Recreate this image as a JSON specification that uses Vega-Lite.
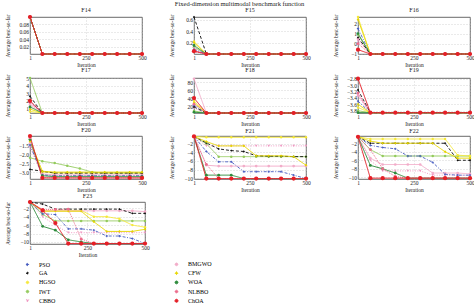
{
"$schema":"https://vega.github.io/schema/vega-lite/v6.json",
"padding":{"left":4,"top":0,"right":0,"bottom":0},
"title":{"text":"Fixed-dimension multimodal benchmark function","fontSize":6.5,"offset":0,"anchor":"middle"},
"config":{
 "font":"Liberation Serif",
 "view":{"stroke":"#444","strokeWidth":0.8},
 "axis":{"labelFontSize":5.5,"titleFontSize":5.5,"titleFontWeight":"normal","labelColor":"#222","titleColor":"#222","domain":false,"ticks":false,"gridColor":"#bbb","gridDash":[1,2],"gridWidth":0.6,"labelPadding":1.5,"labelFlush":false,"labelOverlap":false},
 "axisX":{"titlePadding":1},
 "axisY":{"minExtent":15,"maxExtent":15,"titlePadding":5},
 "title":{"fontSize":6,"fontWeight":"normal","offset":0.5,"color":"#222"},
 "legend":{"columns":2,"rowPadding":1.2,"labelFontSize":6,"symbolSize":49,"labelOffset":4}
},
"resolve":{"scale":{"color":"shared","strokeDash":"shared","strokeWidth":"shared","shape":"shared","size":"shared"},"legend":{"color":"shared","strokeDash":"shared"}},
"datasets":{
"F14":[
{"it":1,"PSO":0.1,"BMGWO":0.1,"GA":0.1,"CFW":0.1,"HGSO":0.1,"WOA":0.1,"IWT":0.1,"NLBBO":0.1,"CBBO":0.1,"ChOA":0.1},
{"it":56,"PSO":0,"BMGWO":0,"GA":0,"CFW":0,"HGSO":0,"WOA":0,"IWT":0,"NLBBO":0,"CBBO":0,"ChOA":0},
{"it":111,"PSO":0,"BMGWO":0,"GA":0,"CFW":0,"HGSO":0,"WOA":0,"IWT":0,"NLBBO":0,"CBBO":0,"ChOA":0},
{"it":167,"PSO":0,"BMGWO":0,"GA":0,"CFW":0,"HGSO":0,"WOA":0,"IWT":0,"NLBBO":0,"CBBO":0,"ChOA":0},
{"it":223,"PSO":0,"BMGWO":0,"GA":0,"CFW":0,"HGSO":0,"WOA":0,"IWT":0,"NLBBO":0,"CBBO":0,"ChOA":0},
{"it":278,"PSO":0,"BMGWO":0,"GA":0,"CFW":0,"HGSO":0,"WOA":0,"IWT":0,"NLBBO":0,"CBBO":0,"ChOA":0},
{"it":334,"PSO":0,"BMGWO":0,"GA":0,"CFW":0,"HGSO":0,"WOA":0,"IWT":0,"NLBBO":0,"CBBO":0,"ChOA":0},
{"it":389,"PSO":0,"BMGWO":0,"GA":0,"CFW":0,"HGSO":0,"WOA":0,"IWT":0,"NLBBO":0,"CBBO":0,"ChOA":0},
{"it":445,"PSO":0,"BMGWO":0,"GA":0,"CFW":0,"HGSO":0,"WOA":0,"IWT":0,"NLBBO":0,"CBBO":0,"ChOA":0},
{"it":500,"PSO":0,"BMGWO":0,"GA":0,"CFW":0,"HGSO":0,"WOA":0,"IWT":0,"NLBBO":0,"CBBO":0,"ChOA":0}],
"F15":[
{"it":1,"PSO":0.08,"BMGWO":0.06,"GA":0.65,"CFW":0.2,"HGSO":0.22,"WOA":0.15,"IWT":0.12,"NLBBO":0.04,"CBBO":0.1,"ChOA":0.05},
{"it":56,"PSO":0,"BMGWO":0,"GA":0,"CFW":0,"HGSO":0,"WOA":0,"IWT":0,"NLBBO":0,"CBBO":0,"ChOA":0},
{"it":111,"PSO":0,"BMGWO":0,"GA":0,"CFW":0,"HGSO":0,"WOA":0,"IWT":0,"NLBBO":0,"CBBO":0,"ChOA":0},
{"it":167,"PSO":0,"BMGWO":0,"GA":0,"CFW":0,"HGSO":0,"WOA":0,"IWT":0,"NLBBO":0,"CBBO":0,"ChOA":0},
{"it":223,"PSO":0,"BMGWO":0,"GA":0,"CFW":0,"HGSO":0,"WOA":0,"IWT":0,"NLBBO":0,"CBBO":0,"ChOA":0},
{"it":278,"PSO":0,"BMGWO":0,"GA":0,"CFW":0,"HGSO":0,"WOA":0,"IWT":0,"NLBBO":0,"CBBO":0,"ChOA":0},
{"it":334,"PSO":0,"BMGWO":0,"GA":0,"CFW":0,"HGSO":0,"WOA":0,"IWT":0,"NLBBO":0,"CBBO":0,"ChOA":0},
{"it":389,"PSO":0,"BMGWO":0,"GA":0,"CFW":0,"HGSO":0,"WOA":0,"IWT":0,"NLBBO":0,"CBBO":0,"ChOA":0},
{"it":445,"PSO":0,"BMGWO":0,"GA":0,"CFW":0,"HGSO":0,"WOA":0,"IWT":0,"NLBBO":0,"CBBO":0,"ChOA":0},
{"it":500,"PSO":0,"BMGWO":0,"GA":0,"CFW":0,"HGSO":0,"WOA":0,"IWT":0,"NLBBO":0,"CBBO":0,"ChOA":0}],
"F16":[
{"it":1,"PSO":1.5,"BMGWO":0.5,"GA":0.6,"CFW":2.4,"HGSO":2.65,"WOA":1.0,"IWT":0.9,"NLBBO":0.0,"CBBO":0.3,"ChOA":-0.6},
{"it":56,"PSO":-1.03,"BMGWO":-1.03,"GA":-1.03,"CFW":-1.03,"HGSO":-1.03,"WOA":-1.03,"IWT":-1.03,"NLBBO":-1.03,"CBBO":-1.03,"ChOA":-1.03},
{"it":111,"PSO":-1.03,"BMGWO":-1.03,"GA":-1.03,"CFW":-1.03,"HGSO":-1.03,"WOA":-1.03,"IWT":-1.03,"NLBBO":-1.03,"CBBO":-1.03,"ChOA":-1.03},
{"it":167,"PSO":-1.03,"BMGWO":-1.03,"GA":-1.03,"CFW":-1.03,"HGSO":-1.03,"WOA":-1.03,"IWT":-1.03,"NLBBO":-1.03,"CBBO":-1.03,"ChOA":-1.03},
{"it":223,"PSO":-1.03,"BMGWO":-1.03,"GA":-1.03,"CFW":-1.03,"HGSO":-1.03,"WOA":-1.03,"IWT":-1.03,"NLBBO":-1.03,"CBBO":-1.03,"ChOA":-1.03},
{"it":278,"PSO":-1.03,"BMGWO":-1.03,"GA":-1.03,"CFW":-1.03,"HGSO":-1.03,"WOA":-1.03,"IWT":-1.03,"NLBBO":-1.03,"CBBO":-1.03,"ChOA":-1.03},
{"it":334,"PSO":-1.03,"BMGWO":-1.03,"GA":-1.03,"CFW":-1.03,"HGSO":-1.03,"WOA":-1.03,"IWT":-1.03,"NLBBO":-1.03,"CBBO":-1.03,"ChOA":-1.03},
{"it":389,"PSO":-1.03,"BMGWO":-1.03,"GA":-1.03,"CFW":-1.03,"HGSO":-1.03,"WOA":-1.03,"IWT":-1.03,"NLBBO":-1.03,"CBBO":-1.03,"ChOA":-1.03},
{"it":445,"PSO":-1.03,"BMGWO":-1.03,"GA":-1.03,"CFW":-1.03,"HGSO":-1.03,"WOA":-1.03,"IWT":-1.03,"NLBBO":-1.03,"CBBO":-1.03,"ChOA":-1.03},
{"it":500,"PSO":-1.03,"BMGWO":-1.03,"GA":-1.03,"CFW":-1.03,"HGSO":-1.03,"WOA":-1.03,"IWT":-1.03,"NLBBO":-1.03,"CBBO":-1.03,"ChOA":-1.03}],
"F17":[
{"it":1,"PSO":2.0,"BMGWO":1.5,"GA":2.6,"CFW":0.9,"HGSO":0.6,"WOA":1.2,"IWT":5,"NLBBO":1.8,"CBBO":1.7,"ChOA":2.0},
{"it":56,"PSO":0.398,"BMGWO":0.398,"GA":0.398,"CFW":0.398,"HGSO":0.398,"WOA":0.398,"IWT":0.398,"NLBBO":0.398,"CBBO":0.398,"ChOA":0.398},
{"it":111,"PSO":0.398,"BMGWO":0.398,"GA":0.398,"CFW":0.398,"HGSO":0.398,"WOA":0.398,"IWT":0.398,"NLBBO":0.398,"CBBO":0.398,"ChOA":0.398},
{"it":167,"PSO":0.398,"BMGWO":0.398,"GA":0.398,"CFW":0.398,"HGSO":0.398,"WOA":0.398,"IWT":0.398,"NLBBO":0.398,"CBBO":0.398,"ChOA":0.398},
{"it":223,"PSO":0.398,"BMGWO":0.398,"GA":0.398,"CFW":0.398,"HGSO":0.398,"WOA":0.398,"IWT":0.398,"NLBBO":0.398,"CBBO":0.398,"ChOA":0.398},
{"it":278,"PSO":0.398,"BMGWO":0.398,"GA":0.398,"CFW":0.398,"HGSO":0.398,"WOA":0.398,"IWT":0.398,"NLBBO":0.398,"CBBO":0.398,"ChOA":0.398},
{"it":334,"PSO":0.398,"BMGWO":0.398,"GA":0.398,"CFW":0.398,"HGSO":0.398,"WOA":0.398,"IWT":0.398,"NLBBO":0.398,"CBBO":0.398,"ChOA":0.398},
{"it":389,"PSO":0.398,"BMGWO":0.398,"GA":0.398,"CFW":0.398,"HGSO":0.398,"WOA":0.398,"IWT":0.398,"NLBBO":0.398,"CBBO":0.398,"ChOA":0.398},
{"it":445,"PSO":0.398,"BMGWO":0.398,"GA":0.398,"CFW":0.398,"HGSO":0.398,"WOA":0.398,"IWT":0.398,"NLBBO":0.398,"CBBO":0.398,"ChOA":0.398},
{"it":500,"PSO":0.398,"BMGWO":0.398,"GA":0.398,"CFW":0.398,"HGSO":0.398,"WOA":0.398,"IWT":0.398,"NLBBO":0.398,"CBBO":0.398,"ChOA":0.398}],
"F18":[
{"it":1,"PSO":22,"BMGWO":88,"GA":18,"CFW":28,"HGSO":33,"WOA":5,"IWT":8,"NLBBO":25,"CBBO":15,"ChOA":40},
{"it":56,"PSO":3,"BMGWO":3,"GA":3,"CFW":3,"HGSO":3,"WOA":3,"IWT":3,"NLBBO":3,"CBBO":3,"ChOA":3},
{"it":111,"PSO":3,"BMGWO":3,"GA":3,"CFW":3,"HGSO":3,"WOA":3,"IWT":3,"NLBBO":3,"CBBO":3,"ChOA":3},
{"it":167,"PSO":3,"BMGWO":3,"GA":3,"CFW":3,"HGSO":3,"WOA":3,"IWT":3,"NLBBO":3,"CBBO":3,"ChOA":3},
{"it":223,"PSO":3,"BMGWO":3,"GA":3,"CFW":3,"HGSO":3,"WOA":3,"IWT":3,"NLBBO":3,"CBBO":3,"ChOA":3},
{"it":278,"PSO":3,"BMGWO":3,"GA":3,"CFW":3,"HGSO":3,"WOA":3,"IWT":3,"NLBBO":3,"CBBO":3,"ChOA":3},
{"it":334,"PSO":3,"BMGWO":3,"GA":3,"CFW":3,"HGSO":3,"WOA":3,"IWT":3,"NLBBO":3,"CBBO":3,"ChOA":3},
{"it":389,"PSO":3,"BMGWO":3,"GA":3,"CFW":3,"HGSO":3,"WOA":3,"IWT":3,"NLBBO":3,"CBBO":3,"ChOA":3},
{"it":445,"PSO":3,"BMGWO":3,"GA":3,"CFW":3,"HGSO":3,"WOA":3,"IWT":3,"NLBBO":3,"CBBO":3,"ChOA":3},
{"it":500,"PSO":3,"BMGWO":3,"GA":3,"CFW":3,"HGSO":3,"WOA":3,"IWT":3,"NLBBO":3,"CBBO":3,"ChOA":3}],
"F19":[
{"it":1,"PSO":-3.5,"BMGWO":-3.3,"GA":-3.15,"CFW":-3.6,"HGSO":-3.7,"WOA":-3.86,"IWT":-3.8,"NLBBO":-3.25,"CBBO":-3.35,"ChOA":-2.8},
{"it":56,"PSO":-3.86,"BMGWO":-3.86,"GA":-3.86,"CFW":-3.86,"HGSO":-3.86,"WOA":-3.86,"IWT":-3.86,"NLBBO":-3.86,"CBBO":-3.86,"ChOA":-3.86},
{"it":111,"PSO":-3.86,"BMGWO":-3.86,"GA":-3.86,"CFW":-3.86,"HGSO":-3.86,"WOA":-3.86,"IWT":-3.86,"NLBBO":-3.86,"CBBO":-3.86,"ChOA":-3.86},
{"it":167,"PSO":-3.86,"BMGWO":-3.86,"GA":-3.86,"CFW":-3.86,"HGSO":-3.86,"WOA":-3.86,"IWT":-3.86,"NLBBO":-3.86,"CBBO":-3.86,"ChOA":-3.86},
{"it":223,"PSO":-3.86,"BMGWO":-3.86,"GA":-3.86,"CFW":-3.86,"HGSO":-3.86,"WOA":-3.86,"IWT":-3.86,"NLBBO":-3.86,"CBBO":-3.86,"ChOA":-3.86},
{"it":278,"PSO":-3.86,"BMGWO":-3.86,"GA":-3.86,"CFW":-3.86,"HGSO":-3.86,"WOA":-3.86,"IWT":-3.86,"NLBBO":-3.86,"CBBO":-3.86,"ChOA":-3.86},
{"it":334,"PSO":-3.86,"BMGWO":-3.86,"GA":-3.86,"CFW":-3.86,"HGSO":-3.86,"WOA":-3.86,"IWT":-3.86,"NLBBO":-3.86,"CBBO":-3.86,"ChOA":-3.86},
{"it":389,"PSO":-3.86,"BMGWO":-3.86,"GA":-3.86,"CFW":-3.86,"HGSO":-3.86,"WOA":-3.86,"IWT":-3.86,"NLBBO":-3.86,"CBBO":-3.86,"ChOA":-3.86},
{"it":445,"PSO":-3.86,"BMGWO":-3.86,"GA":-3.86,"CFW":-3.86,"HGSO":-3.86,"WOA":-3.86,"IWT":-3.86,"NLBBO":-3.86,"CBBO":-3.86,"ChOA":-3.86},
{"it":500,"PSO":-3.86,"BMGWO":-3.86,"GA":-3.86,"CFW":-3.86,"HGSO":-3.86,"WOA":-3.86,"IWT":-3.86,"NLBBO":-3.86,"CBBO":-3.86,"ChOA":-3.86}],
"F20":[
{"it":1,"PSO":-1.5,"BMGWO":-1.4,"GA":-2.85,"CFW":-1.3,"HGSO":-1.2,"WOA":-1.2,"IWT":-2.2,"NLBBO":-1.1,"CBBO":-1.6,"ChOA":-1.0},
{"it":56,"PSO":-3.15,"BMGWO":-3.1,"GA":-2.95,"CFW":-2.95,"HGSO":-3.0,"WOA":-3.2,"IWT":-2.4,"NLBBO":-3.3,"CBBO":-3.2,"ChOA":-3.32},
{"it":111,"PSO":-3.2,"BMGWO":-3.15,"GA":-3.05,"CFW":-3.0,"HGSO":-3.05,"WOA":-3.25,"IWT":-2.5,"NLBBO":-3.32,"CBBO":-3.2,"ChOA":-3.32},
{"it":167,"PSO":-3.2,"BMGWO":-3.15,"GA":-3.05,"CFW":-3.0,"HGSO":-3.05,"WOA":-3.25,"IWT":-2.65,"NLBBO":-3.32,"CBBO":-3.2,"ChOA":-3.32},
{"it":223,"PSO":-3.2,"BMGWO":-3.15,"GA":-3.05,"CFW":-3.0,"HGSO":-3.05,"WOA":-3.25,"IWT":-2.8,"NLBBO":-3.32,"CBBO":-3.2,"ChOA":-3.32},
{"it":278,"PSO":-3.2,"BMGWO":-3.15,"GA":-3.05,"CFW":-3.0,"HGSO":-3.05,"WOA":-3.25,"IWT":-3.0,"NLBBO":-3.32,"CBBO":-3.2,"ChOA":-3.32},
{"it":334,"PSO":-3.2,"BMGWO":-3.15,"GA":-3.05,"CFW":-3.0,"HGSO":-3.05,"WOA":-3.25,"IWT":-3.05,"NLBBO":-3.32,"CBBO":-3.2,"ChOA":-3.32},
{"it":389,"PSO":-3.2,"BMGWO":-3.15,"GA":-3.05,"CFW":-3.0,"HGSO":-3.05,"WOA":-3.25,"IWT":-3.05,"NLBBO":-3.32,"CBBO":-3.2,"ChOA":-3.32},
{"it":445,"PSO":-3.2,"BMGWO":-3.15,"GA":-3.05,"CFW":-3.0,"HGSO":-3.05,"WOA":-3.25,"IWT":-3.05,"NLBBO":-3.32,"CBBO":-3.2,"ChOA":-3.32},
{"it":500,"PSO":-3.2,"BMGWO":-3.15,"GA":-3.05,"CFW":-3.0,"HGSO":-3.05,"WOA":-3.25,"IWT":-3.05,"NLBBO":-3.32,"CBBO":-3.2,"ChOA":-3.32}],
"F21":[
{"it":1,"PSO":-0.3,"BMGWO":-0.3,"GA":-0.3,"CFW":-0.3,"HGSO":-0.3,"WOA":-0.3,"IWT":-0.3,"NLBBO":-0.3,"CBBO":-0.3,"ChOA":-0.3},
{"it":56,"PSO":-3.8,"BMGWO":-7.0,"GA":-1.8,"CFW":-1.5,"HGSO":-0.5,"WOA":-9.3,"IWT":-2.0,"NLBBO":-6.8,"CBBO":-2.5,"ChOA":-10.1},
{"it":111,"PSO":-6.2,"BMGWO":-7.2,"GA":-3.2,"CFW":-2.5,"HGSO":-0.5,"WOA":-9.3,"IWT":-5.0,"NLBBO":-10.1,"CBBO":-2.5,"ChOA":-10.1},
{"it":167,"PSO":-6.2,"BMGWO":-7.2,"GA":-3.6,"CFW":-2.5,"HGSO":-0.5,"WOA":-9.3,"IWT":-5.0,"NLBBO":-10.1,"CBBO":-2.5,"ChOA":-10.1},
{"it":223,"PSO":-8.5,"BMGWO":-7.2,"GA":-3.8,"CFW":-2.5,"HGSO":-0.5,"WOA":-10.1,"IWT":-5.0,"NLBBO":-10.1,"CBBO":-2.5,"ChOA":-10.1},
{"it":278,"PSO":-8.5,"BMGWO":-7.2,"GA":-4.8,"CFW":-4.8,"HGSO":-0.5,"WOA":-10.1,"IWT":-5.0,"NLBBO":-10.1,"CBBO":-2.5,"ChOA":-10.1},
{"it":334,"PSO":-8.5,"BMGWO":-7.2,"GA":-4.9,"CFW":-4.8,"HGSO":-0.5,"WOA":-10.1,"IWT":-5.0,"NLBBO":-10.1,"CBBO":-2.5,"ChOA":-10.1},
{"it":389,"PSO":-8.5,"BMGWO":-7.2,"GA":-4.9,"CFW":-4.8,"HGSO":-0.5,"WOA":-10.1,"IWT":-5.0,"NLBBO":-10.1,"CBBO":-2.5,"ChOA":-10.1},
{"it":445,"PSO":-9.3,"BMGWO":-7.2,"GA":-5.0,"CFW":-5.0,"HGSO":-0.5,"WOA":-10.1,"IWT":-5.0,"NLBBO":-10.1,"CBBO":-2.5,"ChOA":-10.1},
{"it":500,"PSO":-10.1,"BMGWO":-7.2,"GA":-5.0,"CFW":-7.0,"HGSO":-0.5,"WOA":-10.1,"IWT":-5.0,"NLBBO":-10.1,"CBBO":-2.5,"ChOA":-10.1}],
"F22":[
{"it":1,"PSO":-0.5,"BMGWO":-0.5,"GA":-0.5,"CFW":-0.5,"HGSO":-0.5,"WOA":-0.5,"IWT":-0.5,"NLBBO":-0.5,"CBBO":-0.5,"ChOA":-0.5},
{"it":56,"PSO":-2.5,"BMGWO":-5.5,"GA":-2.0,"CFW":-1.5,"HGSO":-1.0,"WOA":-7.2,"IWT":-3.5,"NLBBO":-3.5,"CBBO":-6.0,"ChOA":-10.2},
{"it":111,"PSO":-3.0,"BMGWO":-7.0,"GA":-2.0,"CFW":-2.0,"HGSO":-1.0,"WOA":-8.0,"IWT":-5.0,"NLBBO":-8.0,"CBBO":-8.5,"ChOA":-10.2},
{"it":167,"PSO":-3.3,"BMGWO":-7.0,"GA":-2.0,"CFW":-2.0,"HGSO":-1.0,"WOA":-9.0,"IWT":-5.0,"NLBBO":-9.8,"CBBO":-8.5,"ChOA":-10.2},
{"it":223,"PSO":-5.0,"BMGWO":-7.0,"GA":-2.0,"CFW":-2.0,"HGSO":-1.0,"WOA":-10.2,"IWT":-5.0,"NLBBO":-10.2,"CBBO":-8.5,"ChOA":-10.2},
{"it":278,"PSO":-5.0,"BMGWO":-7.0,"GA":-2.0,"CFW":-2.0,"HGSO":-1.0,"WOA":-10.2,"IWT":-5.0,"NLBBO":-10.2,"CBBO":-8.5,"ChOA":-10.2},
{"it":334,"PSO":-6.5,"BMGWO":-9.0,"GA":-2.0,"CFW":-2.0,"HGSO":-1.0,"WOA":-10.2,"IWT":-5.0,"NLBBO":-10.2,"CBBO":-9.5,"ChOA":-10.2},
{"it":389,"PSO":-9.3,"BMGWO":-9.0,"GA":-2.0,"CFW":-4.0,"HGSO":-1.0,"WOA":-10.2,"IWT":-5.0,"NLBBO":-10.2,"CBBO":-9.5,"ChOA":-10.2},
{"it":445,"PSO":-9.5,"BMGWO":-9.0,"GA":-6.0,"CFW":-5.5,"HGSO":-4.8,"WOA":-10.2,"IWT":-5.0,"NLBBO":-10.2,"CBBO":-9.5,"ChOA":-10.2},
{"it":500,"PSO":-9.5,"BMGWO":-9.2,"GA":-6.0,"CFW":-5.5,"HGSO":-5.0,"WOA":-10.2,"IWT":-5.0,"NLBBO":-10.2,"CBBO":-9.5,"ChOA":-10.2}],
"F23":[
{"it":1,"PSO":-0.5,"BMGWO":-0.5,"GA":-0.5,"CFW":-0.5,"HGSO":-0.5,"WOA":-0.5,"IWT":-0.5,"NLBBO":-0.5,"CBBO":-0.5,"ChOA":-0.5},
{"it":56,"PSO":-3.3,"BMGWO":-2.6,"GA":-1.0,"CFW":-2.7,"HGSO":-2.5,"WOA":-6.3,"IWT":-3.5,"NLBBO":-2.3,"CBBO":-4.0,"ChOA":-2.5},
{"it":111,"PSO":-3.5,"BMGWO":-2.6,"GA":-2.2,"CFW":-2.7,"HGSO":-2.5,"WOA":-7.2,"IWT":-5.0,"NLBBO":-2.3,"CBBO":-6.0,"ChOA":-5.5},
{"it":167,"PSO":-6.9,"BMGWO":-2.6,"GA":-2.2,"CFW":-2.7,"HGSO":-2.5,"WOA":-9.5,"IWT":-5.0,"NLBBO":-2.2,"CBBO":-7.8,"ChOA":-10.4},
{"it":223,"PSO":-6.9,"BMGWO":-2.6,"GA":-2.2,"CFW":-2.7,"HGSO":-2.5,"WOA":-10.0,"IWT":-5.0,"NLBBO":-9.3,"CBBO":-7.8,"ChOA":-10.4},
{"it":278,"PSO":-7.2,"BMGWO":-2.6,"GA":-2.2,"CFW":-5.2,"HGSO":-4.0,"WOA":-10.4,"IWT":-5.0,"NLBBO":-10.4,"CBBO":-7.8,"ChOA":-10.4},
{"it":334,"PSO":-8.6,"BMGWO":-2.6,"GA":-2.2,"CFW":-7.5,"HGSO":-4.0,"WOA":-10.4,"IWT":-5.0,"NLBBO":-10.4,"CBBO":-7.8,"ChOA":-10.4},
{"it":389,"PSO":-8.6,"BMGWO":-2.6,"GA":-2.2,"CFW":-7.5,"HGSO":-4.5,"WOA":-10.4,"IWT":-5.0,"NLBBO":-10.4,"CBBO":-7.8,"ChOA":-10.4},
{"it":445,"PSO":-9.2,"BMGWO":-2.6,"GA":-3.2,"CFW":-7.5,"HGSO":-6.0,"WOA":-10.4,"IWT":-5.0,"NLBBO":-10.4,"CBBO":-7.8,"ChOA":-10.4},
{"it":500,"PSO":-10.4,"BMGWO":-2.8,"GA":-3.2,"CFW":-7.0,"HGSO":-6.5,"WOA":-10.4,"IWT":-5.0,"NLBBO":-10.4,"CBBO":-7.8,"ChOA":-10.4}]
},
"spacing":-1,
"vconcat":[
 {"spacing":21,"resolve":{"scale":{"color":"shared","strokeDash":"shared","strokeWidth":"shared","shape":"shared","size":"shared"},"legend":{"color":"shared","strokeDash":"shared"}},"hconcat":[
  {"title":"F14","width":112,"height":37,"data":{"name":"F14"},"transform":[{"fold":["IWT","HGSO","BMGWO","CBBO","PSO","GA","CFW","WOA","NLBBO","ChOA"],"as":["algo","v"]}],
   "encoding":{"x":{"field":"it","type":"quantitative","scale":{"domain":[1,500]},"axis":{"values":[1,250,500],"title":"Iteration"}},
    "y":{"field":"v","type":"quantitative","scale":{"domain":[0,0.1],"zero":false,"nice":false},"axis":{"values":[0.02,0.04,0.06,0.08],"title":"Average best-so-far"}}},
   "layer":[
    {"mark":"line","encoding":{"color":{"field":"algo","type":"nominal","title":null,"legend":{"orient":"none","legendX":-9,"legendY":244,"columns":2,"columnPadding":114,"symbolSize":49,"rowPadding":1.2,"labelOffset":12,"encode":{"symbols":{"update":{"shape":{"value":"stroke"},"size":{"value":170},"stroke":{"scale":"color","field":"value"},"strokeDash":{"scale":"strokeDash","field":"value"},"strokeWidth":{"value":1.1},"opacity":{"value":1},"x":{"value":6.5}}}}},"scale":{"domain":["PSO","GA","HGSO","IWT","CBBO","BMGWO","CFW","WOA","NLBBO","ChOA"],"range":["#4a5fc1","#111111","#f5e839","#93ca5c","#f098c2","#f2adc9","#e6d600","#2e8b3c","#ec6c8c","#e51f27"]}},
     "strokeDash":{"field":"algo","type":"nominal","title":null,"scale":{"domain":["PSO","GA","HGSO","IWT","CBBO","BMGWO","CFW","WOA","NLBBO","ChOA"],"range":[[3,1.5,1,1.5],[3,2],[1,0],[1,0],[1,1.5],[1,0],[1,0],[1,0],[1,1],[1,0]]}},
     "strokeWidth":{"field":"algo","type":"nominal","legend":null,"scale":{"domain":["PSO","GA","HGSO","IWT","CBBO","BMGWO","CFW","WOA","NLBBO","ChOA"],"range":[0.9,1,1.6,1,0.9,0.9,1.1,1,0.9,1.6]}}}},
    {"transform":[{"filter":"datum.algo !== 'ChOA'"}],"mark":{"type":"point","filled":true,"opacity":1},"encoding":{"color":{"field":"algo","type":"nominal","title":null},
     "shape":{"field":"algo","type":"nominal","legend":null,"scale":{"domain":["PSO","GA","HGSO","IWT","CBBO","BMGWO","CFW","WOA","NLBBO","ChOA"],"range":["cross","diamond","circle","circle","triangle-down","circle","diamond","circle","circle","circle"]}},
     "size":{"field":"algo","type":"nominal","legend":null,"scale":{"domain":["PSO","GA","HGSO","IWT","CBBO","BMGWO","CFW","WOA","NLBBO","ChOA"],"range":[5,9,0,0,9,4,9,9,7,18]}}}},
    {"transform":[{"filter":"datum.algo === 'ChOA'"}],"mark":{"type":"circle","color":"#e51f27","size":18,"opacity":1}}
   ]},
  {"title":"F15","width":112,"height":37,"data":{"name":"F15"},"transform":[{"fold":["IWT","HGSO","BMGWO","CBBO","PSO","GA","CFW","WOA","NLBBO","ChOA"],"as":["algo","v"]}],
   "encoding":{"x":{"field":"it","type":"quantitative","scale":{"domain":[1,500]},"axis":{"values":[1,250,500],"title":"Iteration"}},
    "y":{"field":"v","type":"quantitative","scale":{"domain":[0,0.65],"zero":false,"nice":false},"axis":{"values":[0.2,0.4,0.6],"title":"Average best-so-far"}}},
   "layer":[
    {"mark":"line","encoding":{"color":{"field":"algo","type":"nominal","title":null},"strokeDash":{"field":"algo","type":"nominal","title":null},"strokeWidth":{"field":"algo","type":"nominal","legend":null}}},
    {"transform":[{"filter":"datum.algo !== 'ChOA'"}],"mark":{"type":"point","filled":true,"opacity":1},"encoding":{"color":{"field":"algo","type":"nominal","title":null},"shape":{"field":"algo","type":"nominal","legend":null},"size":{"field":"algo","type":"nominal","legend":null}}},
    {"transform":[{"filter":"datum.algo === 'ChOA'"}],"mark":{"type":"circle","color":"#e51f27","size":18,"opacity":1}}
   ]},
  {"title":"F16","width":112,"height":37,"data":{"name":"F16"},"transform":[{"fold":["IWT","HGSO","BMGWO","CBBO","PSO","GA","CFW","WOA","NLBBO","ChOA"],"as":["algo","v"]}],
   "encoding":{"x":{"field":"it","type":"quantitative","scale":{"domain":[1,500]},"axis":{"values":[1,250,500],"title":"Iteration"}},
    "y":{"field":"v","type":"quantitative","scale":{"domain":[-1.03,2.65],"zero":false,"nice":false},"axis":{"values":[-1,0,1,2],"title":"Average best-so-far"}}},
   "layer":[
    {"mark":"line","encoding":{"color":{"field":"algo","type":"nominal","title":null},"strokeDash":{"field":"algo","type":"nominal","title":null},"strokeWidth":{"field":"algo","type":"nominal","legend":null}}},
    {"transform":[{"filter":"datum.algo !== 'ChOA'"}],"mark":{"type":"point","filled":true,"opacity":1},"encoding":{"color":{"field":"algo","type":"nominal","title":null},"shape":{"field":"algo","type":"nominal","legend":null},"size":{"field":"algo","type":"nominal","legend":null}}},
    {"transform":[{"filter":"datum.algo === 'ChOA'"}],"mark":{"type":"circle","color":"#e51f27","size":18,"opacity":1}}
   ]}
 ]},
 {"spacing":21,"resolve":{"scale":{"color":"shared","strokeDash":"shared","strokeWidth":"shared","shape":"shared","size":"shared"},"legend":{"color":"shared","strokeDash":"shared"}},"hconcat":[
  {"title":"F17","width":112,"height":35,"data":{"name":"F17"},"transform":[{"fold":["IWT","HGSO","BMGWO","CBBO","PSO","GA","CFW","WOA","NLBBO","ChOA"],"as":["algo","v"]}],
   "encoding":{"x":{"field":"it","type":"quantitative","scale":{"domain":[1,500]},"axis":{"values":[1,250,500],"title":"Iteration"}},
    "y":{"field":"v","type":"quantitative","scale":{"domain":[0.398,5],"zero":false,"nice":false},"axis":{"values":[1,2,3,4,5],"title":"Average best-so-far"}}},
   "layer":[
    {"mark":"line","encoding":{"color":{"field":"algo","type":"nominal","title":null},"strokeDash":{"field":"algo","type":"nominal","title":null},"strokeWidth":{"field":"algo","type":"nominal","legend":null}}},
    {"transform":[{"filter":"datum.algo !== 'ChOA'"}],"mark":{"type":"point","filled":true,"opacity":1},"encoding":{"color":{"field":"algo","type":"nominal","title":null},"shape":{"field":"algo","type":"nominal","legend":null},"size":{"field":"algo","type":"nominal","legend":null}}},
    {"transform":[{"filter":"datum.algo === 'ChOA'"}],"mark":{"type":"circle","color":"#e51f27","size":18,"opacity":1}}
   ]},
  {"title":"F18","width":112,"height":35,"data":{"name":"F18"},"transform":[{"fold":["IWT","HGSO","BMGWO","CBBO","PSO","GA","CFW","WOA","NLBBO","ChOA"],"as":["algo","v"]}],
   "encoding":{"x":{"field":"it","type":"quantitative","scale":{"domain":[1,500]},"axis":{"values":[1,250,500],"title":"Iteration"}},
    "y":{"field":"v","type":"quantitative","scale":{"domain":[3,90],"zero":false,"nice":false},"axis":{"values":[20,40,60,80],"title":"Average best-so-far"}}},
   "layer":[
    {"mark":"line","encoding":{"color":{"field":"algo","type":"nominal","title":null},"strokeDash":{"field":"algo","type":"nominal","title":null},"strokeWidth":{"field":"algo","type":"nominal","legend":null}}},
    {"transform":[{"filter":"datum.algo !== 'ChOA'"}],"mark":{"type":"point","filled":true,"opacity":1},"encoding":{"color":{"field":"algo","type":"nominal","title":null},"shape":{"field":"algo","type":"nominal","legend":null},"size":{"field":"algo","type":"nominal","legend":null}}},
    {"transform":[{"filter":"datum.algo === 'ChOA'"}],"mark":{"type":"circle","color":"#e51f27","size":18,"opacity":1}}
   ]},
  {"title":"F19","width":112,"height":35,"data":{"name":"F19"},"transform":[{"fold":["IWT","HGSO","BMGWO","CBBO","PSO","GA","CFW","WOA","NLBBO","ChOA"],"as":["algo","v"]}],
   "encoding":{"x":{"field":"it","type":"quantitative","scale":{"domain":[1,500]},"axis":{"values":[1,250,500],"title":"Iteration"}},
    "y":{"field":"v","type":"quantitative","scale":{"domain":[-3.87,-2.78],"zero":false,"nice":false},"axis":{"values":[-3.8,-3.6,-3.4,-3.2,-3,-2.8],"title":"Average best-so-far"}}},
   "layer":[
    {"mark":"line","encoding":{"color":{"field":"algo","type":"nominal","title":null},"strokeDash":{"field":"algo","type":"nominal","title":null},"strokeWidth":{"field":"algo","type":"nominal","legend":null}}},
    {"transform":[{"filter":"datum.algo !== 'ChOA'"}],"mark":{"type":"point","filled":true,"opacity":1},"encoding":{"color":{"field":"algo","type":"nominal","title":null},"shape":{"field":"algo","type":"nominal","legend":null},"size":{"field":"algo","type":"nominal","legend":null}}},
    {"transform":[{"filter":"datum.algo === 'ChOA'"}],"mark":{"type":"circle","color":"#e51f27","size":18,"opacity":1}}
   ]}
 ]},
 {"spacing":21,"resolve":{"scale":{"color":"shared","strokeDash":"shared","strokeWidth":"shared","shape":"shared","size":"shared"},"legend":{"color":"shared","strokeDash":"shared"}},"hconcat":[
  {"title":"F20","width":112,"height":43,"data":{"name":"F20"},"transform":[{"fold":["IWT","HGSO","BMGWO","CBBO","PSO","GA","CFW","WOA","NLBBO","ChOA"],"as":["algo","v"]}],
   "encoding":{"x":{"field":"it","type":"quantitative","scale":{"domain":[1,500]},"axis":{"values":[1,250,500],"title":"Iteration"}},
    "y":{"field":"v","type":"quantitative","scale":{"domain":[-3.38,-1],"zero":false,"nice":false},"axis":{"values":[-3,-2.5,-2,-1.5],"title":"Average best-so-far"}}},
   "layer":[
    {"mark":"line","encoding":{"color":{"field":"algo","type":"nominal","title":null},"strokeDash":{"field":"algo","type":"nominal","title":null},"strokeWidth":{"field":"algo","type":"nominal","legend":null}}},
    {"transform":[{"filter":"datum.algo !== 'ChOA'"}],"mark":{"type":"point","filled":true,"opacity":1},"encoding":{"color":{"field":"algo","type":"nominal","title":null},"shape":{"field":"algo","type":"nominal","legend":null},"size":{"field":"algo","type":"nominal","legend":null}}},
    {"transform":[{"filter":"datum.algo === 'ChOA'"}],"mark":{"type":"circle","color":"#e51f27","size":18,"opacity":1}}
   ]},
  {"title":"F21","width":112,"height":43,"data":{"name":"F21"},"transform":[{"fold":["IWT","HGSO","BMGWO","CBBO","PSO","GA","CFW","WOA","NLBBO","ChOA"],"as":["algo","v"]}],
   "encoding":{"x":{"field":"it","type":"quantitative","scale":{"domain":[1,500]},"axis":{"values":[1,250,500],"title":"Iteration"}},
    "y":{"field":"v","type":"quantitative","scale":{"domain":[-10.2,-0.2],"zero":false,"nice":false},"axis":{"values":[-10,-8,-6,-4,-2],"title":"Average best-so-far"}}},
   "layer":[
    {"mark":"line","encoding":{"color":{"field":"algo","type":"nominal","title":null},"strokeDash":{"field":"algo","type":"nominal","title":null},"strokeWidth":{"field":"algo","type":"nominal","legend":null}}},
    {"transform":[{"filter":"datum.algo !== 'ChOA'"}],"mark":{"type":"point","filled":true,"opacity":1},"encoding":{"color":{"field":"algo","type":"nominal","title":null},"shape":{"field":"algo","type":"nominal","legend":null},"size":{"field":"algo","type":"nominal","legend":null}}},
    {"transform":[{"filter":"datum.algo === 'ChOA'"}],"mark":{"type":"circle","color":"#e51f27","size":18,"opacity":1}}
   ]},
  {"title":"F22","width":112,"height":43,"data":{"name":"F22"},"transform":[{"fold":["IWT","HGSO","BMGWO","CBBO","PSO","GA","CFW","WOA","NLBBO","ChOA"],"as":["algo","v"]}],
   "encoding":{"x":{"field":"it","type":"quantitative","scale":{"domain":[1,500]},"axis":{"values":[1,250,500],"title":"Iteration"}},
    "y":{"field":"v","type":"quantitative","scale":{"domain":[-10.4,-0.3],"zero":false,"nice":false},"axis":{"values":[-10,-8,-6,-4,-2],"title":"Average best-so-far"}}},
   "layer":[
    {"mark":"line","encoding":{"color":{"field":"algo","type":"nominal","title":null},"strokeDash":{"field":"algo","type":"nominal","title":null},"strokeWidth":{"field":"algo","type":"nominal","legend":null}}},
    {"transform":[{"filter":"datum.algo !== 'ChOA'"}],"mark":{"type":"point","filled":true,"opacity":1},"encoding":{"color":{"field":"algo","type":"nominal","title":null},"shape":{"field":"algo","type":"nominal","legend":null},"size":{"field":"algo","type":"nominal","legend":null}}},
    {"transform":[{"filter":"datum.algo === 'ChOA'"}],"mark":{"type":"circle","color":"#e51f27","size":18,"opacity":1}}
   ]}
 ]},
 {"title":"F23","width":115,"height":42,"data":{"name":"F23"},"transform":[{"fold":["IWT","HGSO","BMGWO","CBBO","PSO","GA","CFW","WOA","NLBBO","ChOA"],"as":["algo","v"]}],
   "encoding":{"x":{"field":"it","type":"quantitative","scale":{"domain":[1,500]},"axis":{"values":[1,250,500],"title":"Iteration"}},
    "y":{"field":"v","type":"quantitative","scale":{"domain":[-10.5,-0.5],"zero":false,"nice":false},"axis":{"values":[-10,-8,-6,-4,-2],"title":"Average best-so-far"}}},
   "layer":[
    {"mark":"line","encoding":{"color":{"field":"algo","type":"nominal","title":null},"strokeDash":{"field":"algo","type":"nominal","title":null},"strokeWidth":{"field":"algo","type":"nominal","legend":null}}},
    {"transform":[{"filter":"datum.algo !== 'ChOA'"}],"mark":{"type":"point","filled":true,"opacity":1},"encoding":{"color":{"field":"algo","type":"nominal","title":null},"shape":{"field":"algo","type":"nominal","legend":null},"size":{"field":"algo","type":"nominal","legend":null}}},
    {"transform":[{"filter":"datum.algo === 'ChOA'"}],"mark":{"type":"circle","color":"#e51f27","size":18,"opacity":1}}
   ]}
]
}
